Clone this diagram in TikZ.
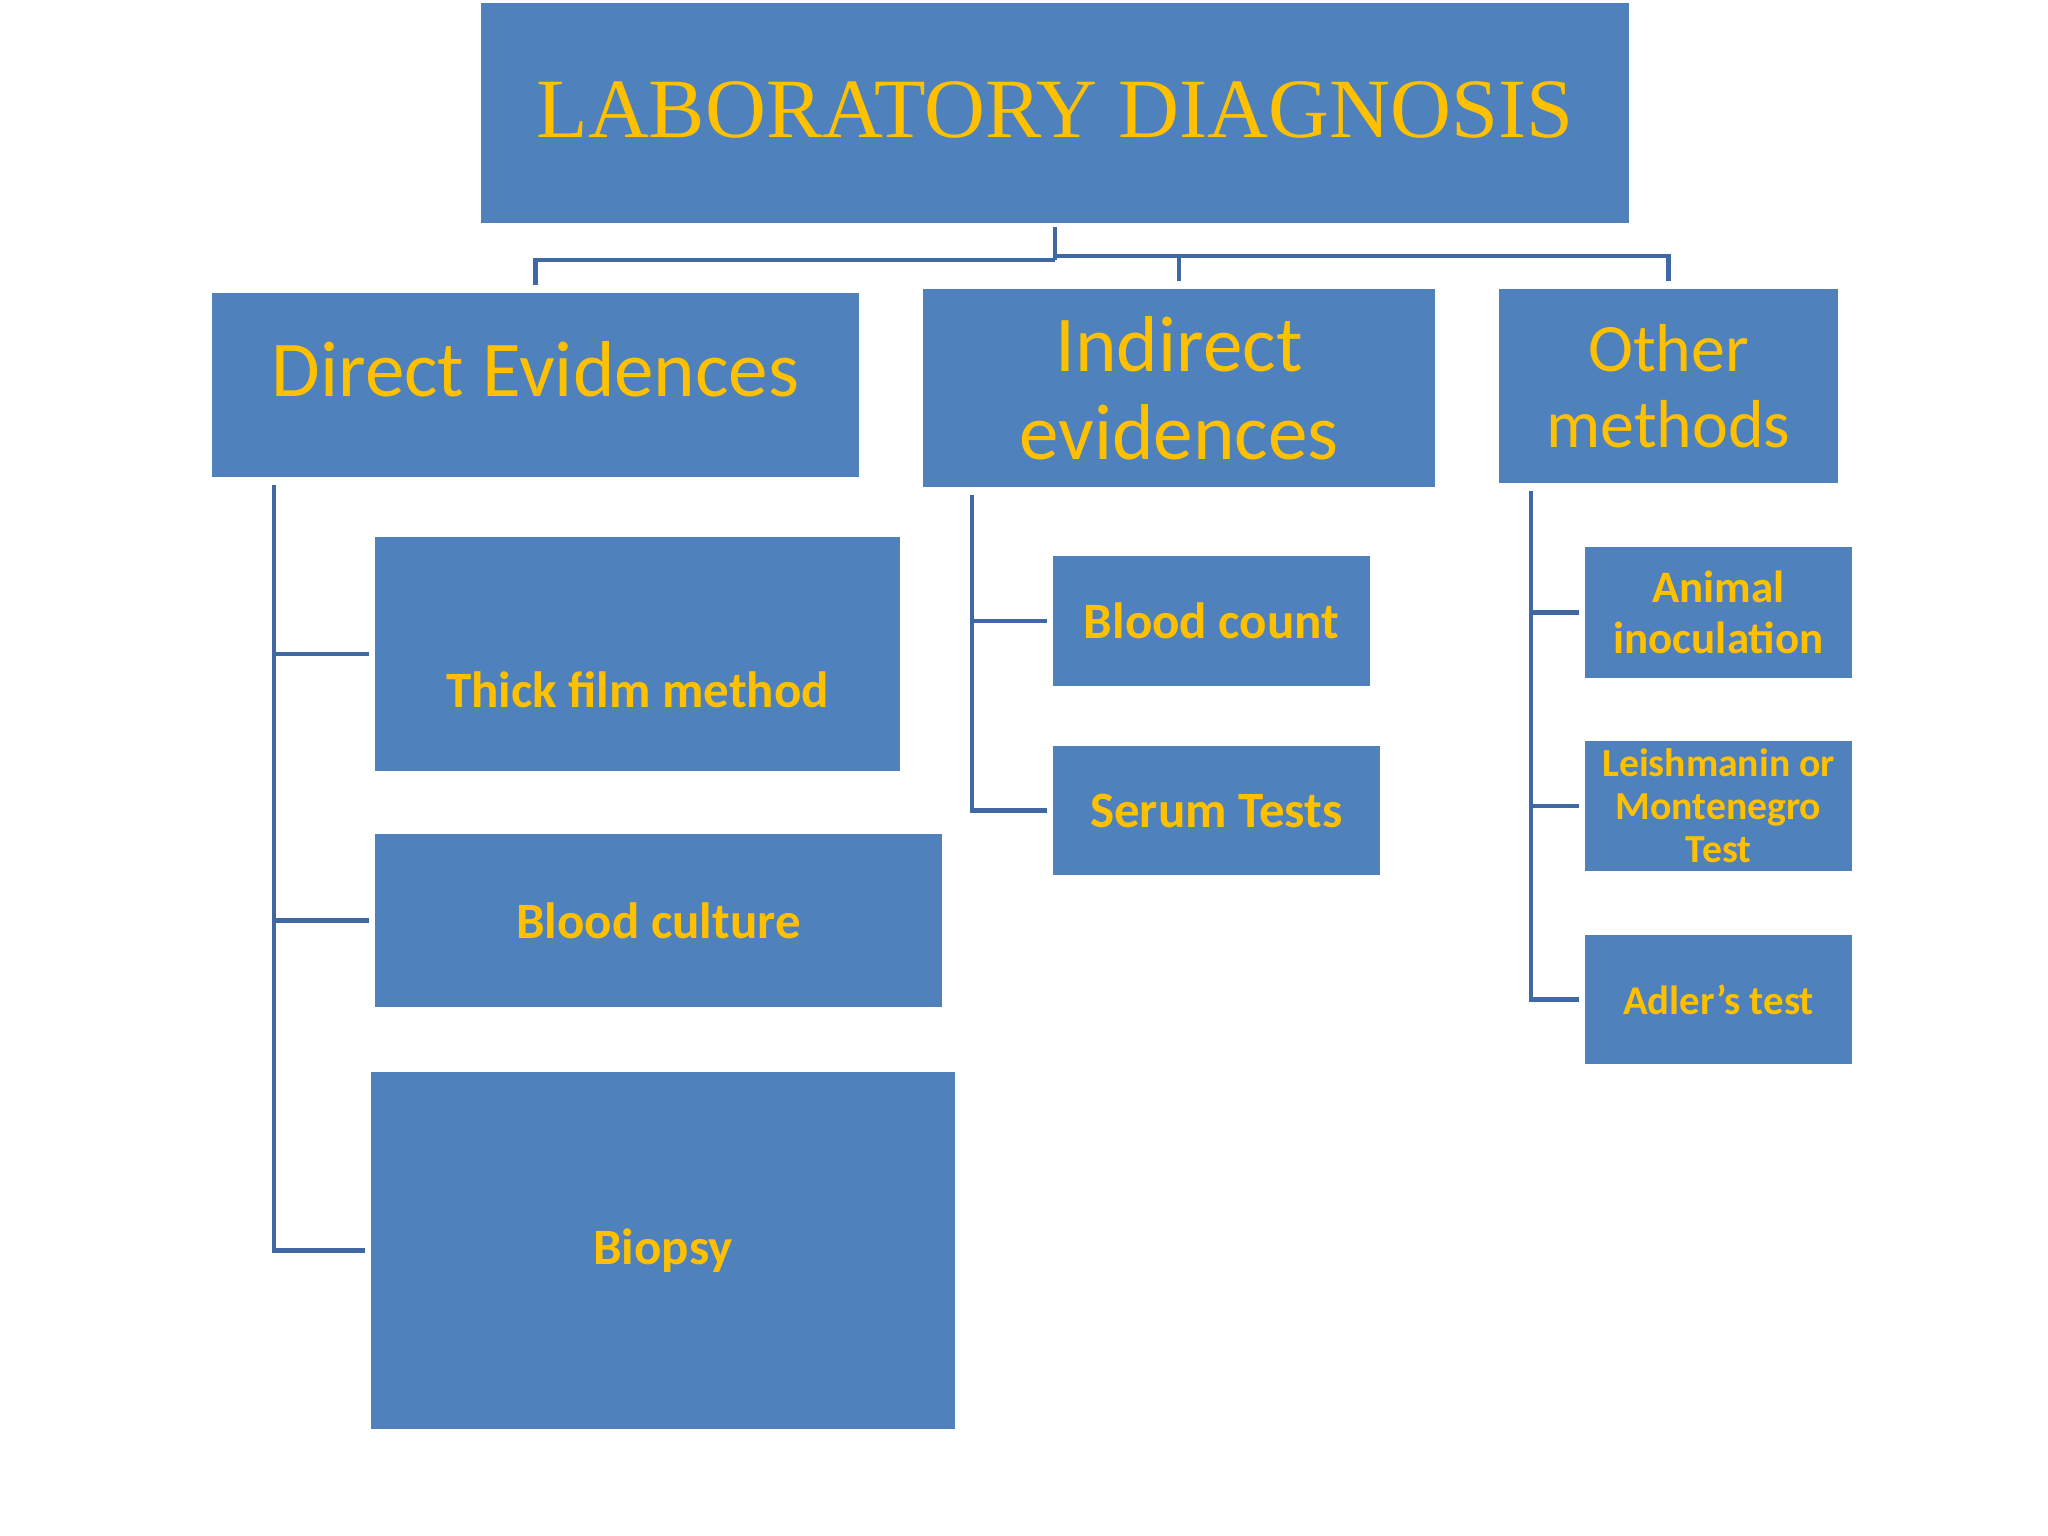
\documentclass[tikz,border=0pt]{standalone}
\usepackage{fontspec}
\setmainfont{Carlito}
\newfontfamily\titlefont{Liberation Serif}
\usepackage{tikz}

\definecolor{boxblue}{RGB}{79,129,189}
\definecolor{linkblue}{RGB}{64,104,162}
\definecolor{labgold}{RGB}{255,192,0}

\begin{document}
\begin{tikzpicture}[x=0.01cm, y=-0.01cm,
  every node/.style={inner sep=0pt, outer sep=0pt, text=labgold, align=center},
  box/.style={fill=boxblue},
  head/.style={box, font=\fontsize{22.5}{25}\selectfont},
  item/.style={box, font=\bfseries\fontsize{14.5}{17}\selectfont},
  conn/.style={draw=linkblue, line width=1.3pt, shorten >=1.7pt}]
  \useasboundingbox (0,0) rectangle (2048,1536);
  \fill[white] (0,0) rectangle (2048,1536);
  % top level
  \node[box, minimum width=11.48cm, minimum height=2.20cm, font=\titlefont\fontsize{24}{28}\selectfont] (lab) at (1055,113) {\raisebox{2pt}{LABORATORY DIAGNOSIS}};
  \node[head, minimum width=6.47cm, minimum height=1.84cm, text height=15.4pt, text depth=8.6pt] (direct) at (535.5,385) {Direct Evidences};
  \node[head, minimum width=5.12cm, minimum height=1.98cm] (indirect) at (1179,388) {Indirect\\evidences};
  \node[head, minimum width=3.39cm, minimum height=1.94cm, font=\fontsize{19.3}{21.5}\selectfont] (other) at (1668.5,386) {Other\\methods};
  % direct evidences
  \node[item, minimum width=5.25cm, minimum height=2.34cm] (thick) at (637.5,654) {\mbox{}\\[13.5pt]Thick film method};
  \node[item, minimum width=5.67cm, minimum height=1.73cm] (culture) at (658.5,920.5) {Blood culture};
  \node[item, minimum width=5.84cm, minimum height=3.57cm] (biopsy) at (663,1250.5) {Biopsy};
  % indirect evidences
  \node[item, minimum width=3.17cm, minimum height=1.30cm] (count) at (1211.5,621) {Blood count};
  \node[item, minimum width=3.27cm, minimum height=1.29cm] (serum) at (1216.5,810.5) {Serum Tests};
  % other methods
  \node[item, minimum width=2.67cm, minimum height=1.31cm, font=\bfseries\fontsize{12.8}{14.5}\selectfont] (animal) at (1718.5,612.5) {Animal\\inoculation};
  \node[item, minimum width=2.67cm, minimum height=1.30cm, font=\bfseries\fontsize{11.3}{12.2}\selectfont] (leish) at (1718.5,806) {Leishmanin or\\Montenegro\\Test};
  \node[item, minimum width=2.67cm, minimum height=1.29cm, font=\bfseries\fontsize{11.6}{14}\selectfont] (adler) at (1718.5,999.5) {Adler’s test};

  % links from the title
  \coordinate (lsplit) at (1055,260);
  \coordinate (rsplit) at (1055,256);
  \draw[conn, shorten <=1.1pt, shorten >=0pt] (lab.south) -- (lsplit);
  \draw[conn, shorten >=2.3pt] (lsplit) -| (direct.north);
  \draw[conn, shorten >=2.3pt] (rsplit) -| (indirect.north);
  \draw[conn, shorten >=2.3pt] (rsplit) -| (other.north);

  % spines to the items
  \path (direct.south west) ++(62,8) coordinate (dtop);
  \path (indirect.south west) ++(49,8) coordinate (itop);
  \path (other.south west) ++(32,8) coordinate (otop);
  \foreach \kid in {thick, culture, biopsy} \draw[conn] (dtop) |- (\kid.west);
  \foreach \kid in {count, serum} \draw[conn] (itop) |- (\kid.west);
  \foreach \kid in {animal, leish, adler} \draw[conn] (otop) |- (\kid.west);
\end{tikzpicture}
\end{document}
